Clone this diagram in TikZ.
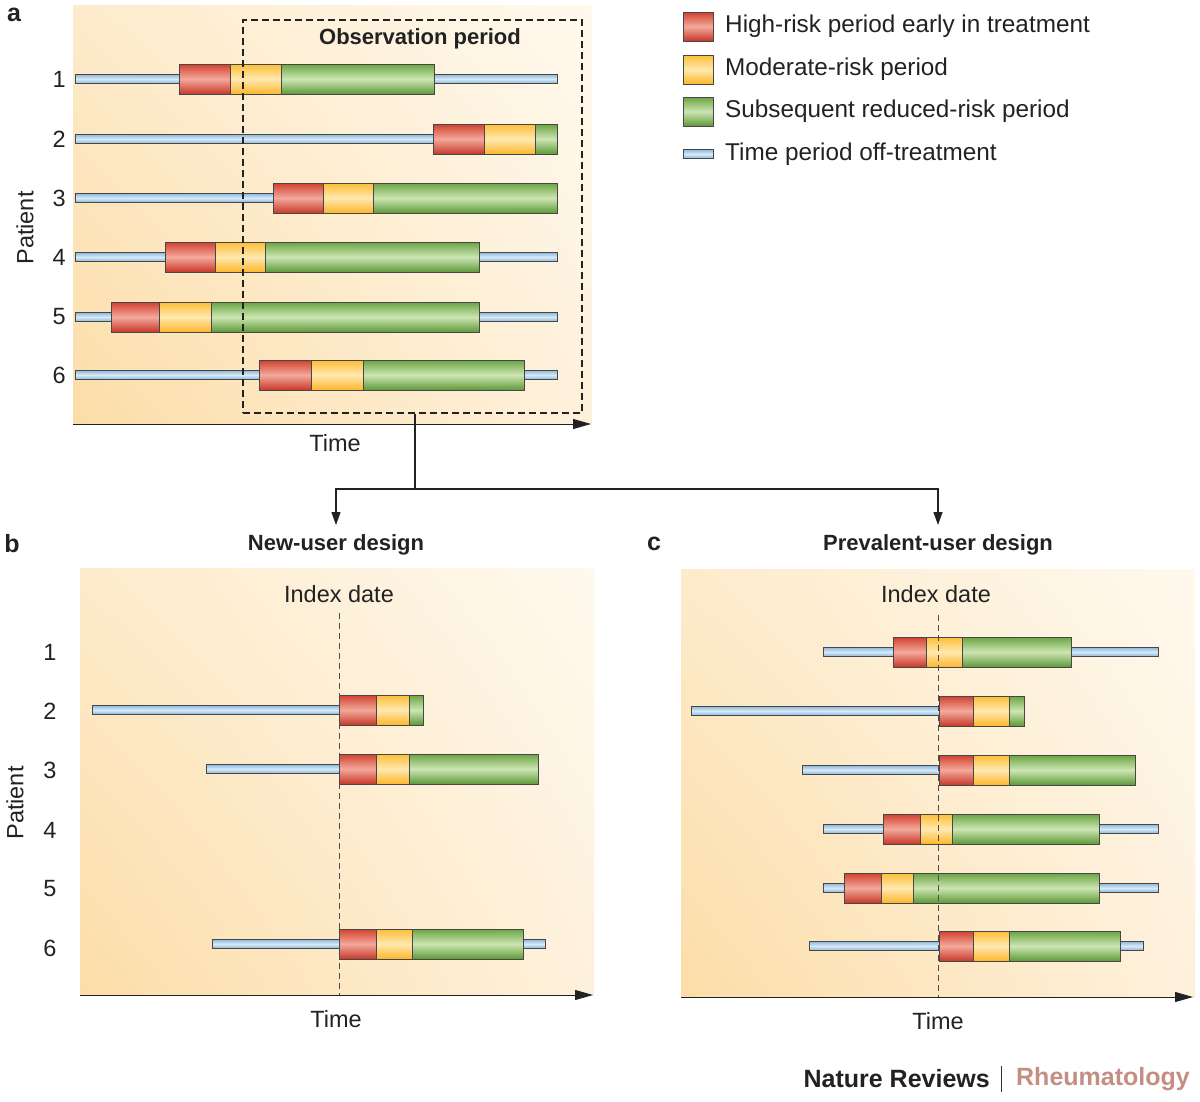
\documentclass[tikz,border=0pt]{standalone}
\usepackage{fontspec}
\setmainfont{Liberation Sans}
\usetikzlibrary{arrows.meta,shadings}
\definecolor{redT}{HTML}{D2402E}
\definecolor{redM}{HTML}{F3A99B}
\definecolor{redB}{HTML}{C7382A}
\definecolor{yelT}{HTML}{FDBE35}
\definecolor{yelM}{HTML}{FFE8B0}
\definecolor{yelB}{HTML}{FBB72A}
\definecolor{grnT}{HTML}{6AA443}
\definecolor{grnM}{HTML}{CDE5B2}
\definecolor{grnB}{HTML}{5E9A3A}
\definecolor{bluT}{HTML}{8DB9DD}
\definecolor{bluM}{HTML}{D8EAF7}
\definecolor{bluB}{HTML}{86B3D9}
\definecolor{bgA}{HTML}{FCDDA8}
\definecolor{bgB}{HTML}{FFF9EE}
\definecolor{bgC}{HTML}{FDEBCB}
\definecolor{bgD}{HTML}{FEF1DC}
\definecolor{rheum}{HTML}{C48E82}
\definecolor{txt}{HTML}{222222}
\newcommand\prow[7]{%
  \draw[offbar] (#2,#1-4.5) rectangle (#3,#1+4.5);
  \draw[hibar] (#4,#1-15) rectangle (#5,#1+15);
  \draw[modbar] (#5,#1-15) rectangle (#6,#1+15);
  \draw[redbar] (#6,#1-15) rectangle (#7,#1+15);
}
\newcommand\bgpanel[4]{%
  \shade[lower left=bgA, upper right=bgB, upper left=bgC, lower right=bgD] (#1,#2) rectangle (#3,#4);
}
\begin{document}
\begin{tikzpicture}[x=1pt,y=-1pt,
  outl/.style={draw=black!72, line width=0.8pt},
  offbar/.style={outl, top color=bluT, bottom color=bluB, middle color=bluM},
  hibar/.style={outl, top color=redT, bottom color=redB, middle color=redM},
  modbar/.style={outl, top color=yelT, bottom color=yelB, middle color=yelM},
  redbar/.style={outl, top color=grnT, bottom color=grnB, middle color=grnM},
  lbl/.style={font=\fontsize{23.5}{26}\selectfont, text=txt, inner sep=0pt},
  leg/.style={font=\fontsize{24.3}{27}\selectfont, text=txt, inner sep=0pt, anchor=west},
  ttl/.style={font=\fontsize{22}{26}\selectfont\bfseries, text=txt, inner sep=0pt},
  plet/.style={font=\fontsize{25}{28}\selectfont\bfseries, text=txt, inner sep=0pt},
  axis/.style={draw=txt, line width=1pt, -{Triangle[length=18pt,width=10pt]}},
  conn/.style={draw=txt, line width=1.2pt, -{Triangle[length=13pt,width=9pt]}},
  idx/.style={draw=black!70, line width=1pt, dash pattern=on 6pt off 4pt},
]
\useasboundingbox (0,0) rectangle (1200,1101);
\fill[white] (0,0) rectangle (1200,1101);

%% ---------------- panel a ----------------
\bgpanel{73}{424}{592}{5}
\node[plet] (la) at (14,15) {a};
\prow{79}{75}{557}{179}{230}{281}{434}
\prow{139}{75}{433}{433}{484}{535}{557}
\prow{198}{75}{273}{273}{323}{373}{557}
\prow{257}{75}{557}{165}{215}{265}{479}
\prow{317}{75}{557}{111}{159}{211}{479}
\prow{375}{75}{557}{259}{311}{363}{524}
\node[draw=txt, line width=1.5pt, dash pattern=on 7pt off 4pt, minimum width=339pt, minimum height=393pt, inner sep=0pt] (obs) at (412.5,216.5) {};
\node[ttl] (obst) at (420,39) {Observation period};
\foreach \n/\y in {1/79,2/139,3/198,4/257,5/317,6/375}
  \node[lbl, anchor=east] (na\n) at (66,\y) {\n};
\node[lbl, rotate=90] (pata) at (25,228) {Patient};
\coordinate (axa0) at (73,424);
\coordinate (axa1) at (591,424);
\draw[axis] (axa0) -- (axa1);
\node[lbl] (tima) at (335,443) {Time};

%% ---------------- connector ----------------
\coordinate (jn) at (415,489);
\coordinate (bArr) at (336,525);
\coordinate (cArr) at (938,525);
\draw[draw=txt, line width=1.2pt] (obs.south -| jn) -- (jn);
\draw[conn] (jn) -| (bArr);
\draw[conn] (jn) -| (cArr);

%% ---------------- legend ----------------
\draw[hibar] (683,12) rectangle (713,41);
\draw[modbar] (683,55) rectangle (713,84);
\draw[redbar] (683,97) rectangle (713,126);
\draw[offbar] (683,149.5) rectangle (713,158.5);
\node[leg] (lg1) at (725,26) {High-risk period early in treatment};
\node[leg] (lg2) at (725,69) {Moderate-risk period};
\node[leg] (lg3) at (725,111) {Subsequent reduced-risk period};
\node[leg] (lg4) at (725,154) {Time period off-treatment};

%% ---------------- panel b ----------------
\node[plet] (lb) at (12,544) {b};
\node[ttl] (btt) at (336,545) {New-user design};
\bgpanel{80}{995}{594}{568}
\prow{710}{92}{339}{339}{376}{409}{423}
\prow{769}{206}{339}{339}{376}{409}{538}
\prow{944}{212}{545}{339}{376}{412}{523}
\coordinate (bi0) at (339,613);
\coordinate (bi1) at (339,995);
\draw[idx] (bi0) -- (bi1);
\node[lbl] (bidx) at (339,594) {Index date};
\foreach \n/\y in {1/652,2/711,3/770,4/830,5/889,6/948}
  \node[lbl] (nb\n) at (50,\y) {\n};
\node[lbl, rotate=90] (patb) at (15,803) {Patient};
\coordinate (axb0) at (80,995);
\coordinate (axb1) at (593,995);
\draw[axis] (axb0) -- (axb1);
\node[lbl] (timb) at (336,1019) {Time};

%% ---------------- panel c ----------------
\node[plet] (lc) at (654,544) {c};
\node[ttl] (ctt) at (938,545) {Prevalent-user design};
\bgpanel{681}{997}{1195}{569}
\prow{652}{823}{1158}{893}{926}{962}{1071}
\prow{711}{691}{939}{939}{973}{1009}{1024}
\prow{770}{802}{939}{939}{973}{1009}{1135}
\prow{829}{823}{1158}{883}{920}{952}{1099}
\prow{888}{823}{1158}{844}{881}{913}{1099}
\prow{946}{809}{1143}{939}{973}{1009}{1120}
\coordinate (ci0) at (938,615);
\coordinate (ci1) at (938,997);
\draw[idx] (ci0) -- (ci1);
\node[lbl] (cidx) at (936,594) {Index date};
\coordinate (axc0) at (681,997);
\coordinate (axc1) at (1193,997);
\draw[axis] (axc0) -- (axc1);
\node[lbl] (timc) at (938,1021) {Time};

%% ---------------- footer ----------------
\node[font=\fontsize{25}{28}\selectfont\bfseries, text=rheum, anchor=east, inner sep=0pt] (rh) at (1190,1079) {Rheumatology};
\node[font=\fontsize{25}{28}\selectfont\bfseries, text=txt, anchor=east, inner sep=0pt] (nr) at (990,1079) {Nature Reviews};
\coordinate (sp0) at (1001,1066);
\coordinate (sp1) at (1001,1092);
\draw[black!80, line width=1pt] (sp0) -- (sp1);
\end{tikzpicture}
\end{document}
